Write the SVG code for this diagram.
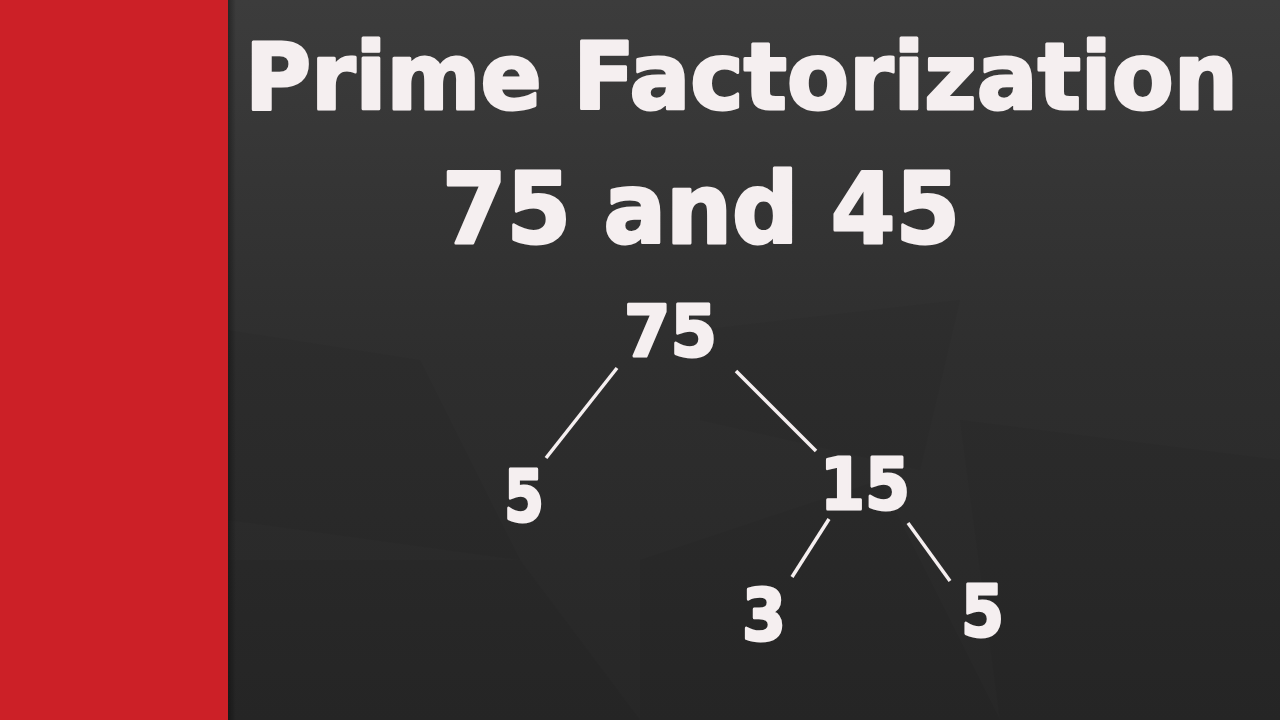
<svg xmlns="http://www.w3.org/2000/svg" width="1280" height="720" viewBox="0 0 1280 720">
  <defs>
    <linearGradient id="bg" x1="0" y1="0" x2="0" y2="1">
      <stop offset="0" stop-color="#3c3c3c"/>
      <stop offset="0.5" stop-color="#2e2e2e"/>
      <stop offset="1" stop-color="#272727"/>
    </linearGradient>
    <linearGradient id="edge" x1="0" y1="0" x2="1" y2="0">
      <stop offset="0" stop-color="#000" stop-opacity="0.35"/>
      <stop offset="1" stop-color="#000" stop-opacity="0"/>
    </linearGradient>
    <style>
      .t { font-family: "DejaVu Sans", "Liberation Sans", sans-serif; font-weight: bold; fill: #f5eff0; stroke: #f5eff0; stroke-width: 3; stroke-linejoin: round; }
      .n { font-family: "DejaVu Sans", "Liberation Sans", sans-serif; font-weight: bold; fill: #f5eff0; font-size: 72px; stroke: #f5eff0; stroke-width: 3; stroke-linejoin: round; }
      .c { stroke: #f5eff0; stroke-width: 3.5; fill: none; }
      .p { fill: #000; }
    </style>
  </defs>
  <rect x="0" y="0" width="1280" height="720" fill="url(#bg)"/>
  <g id="texture" opacity="0.03">
    <polygon class="p" points="228,330 420,360 520,560 228,520"/>
    <polygon class="p" points="700,330 960,300 920,470 700,420"/>
    <polygon class="p" points="228,560 520,560 640,720 228,720"/>
    <polygon class="p" points="960,420 1280,460 1280,720 1000,720"/>
    <polygon class="p" points="640,560 880,480 1000,720 640,720"/>
  </g>
  <rect x="0" y="0" width="228" height="720" fill="#cc2027"/>
  <rect x="228" y="0" width="8" height="720" fill="url(#edge)"/>
  <g id="title">
    <text class="t" x="245" y="109" font-size="93" textLength="993" lengthAdjust="spacingAndGlyphs">Prime Factorization</text>
    <text class="t" x="442" y="243" font-size="98" textLength="518" lengthAdjust="spacingAndGlyphs">75 and 45</text>
  </g>
  <g id="connectors">
    <line class="c" x1="617" y1="368" x2="546" y2="458"/>
    <line class="c" x1="736" y1="371" x2="816" y2="451"/>
    <line class="c" x1="829" y1="519" x2="792" y2="577"/>
    <line class="c" x1="908" y1="523" x2="950" y2="581"/>
  </g>
  <g id="n75"><text class="n" x="624" y="356" textLength="93" lengthAdjust="spacingAndGlyphs">75</text></g>
  <g id="n5a"><text class="n" x="504" y="521" textLength="40" lengthAdjust="spacingAndGlyphs">5</text></g>
  <g id="n15"><text class="n" x="820" y="509" textLength="90" lengthAdjust="spacingAndGlyphs">15</text></g>
  <g id="n3"><text class="n" x="742" y="640" textLength="44" lengthAdjust="spacingAndGlyphs">3</text></g>
  <g id="n5b"><text class="n" x="961" y="636" textLength="43" lengthAdjust="spacingAndGlyphs">5</text></g>
</svg>
